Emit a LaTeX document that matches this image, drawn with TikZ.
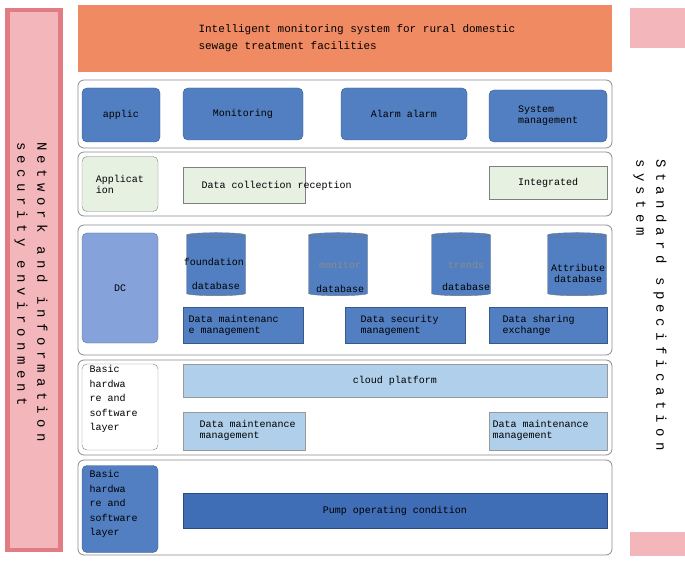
\documentclass[tikz,border=0pt]{standalone}
\usepackage{fontspec}
\setmainfont{Liberation Mono}
\newfontfamily\spacedmono{Liberation Mono}[LetterSpace=38]
\usetikzlibrary{shapes.geometric}
\definecolor{bandred}{HTML}{E27B82}
\definecolor{bandpink}{HTML}{F3B6BA}
\definecolor{titleorange}{HTML}{F08A62}
\definecolor{btnblue}{HTML}{527FC2}
\definecolor{dcblue}{HTML}{86A2DA}
\definecolor{cloudblue}{HTML}{AFCFEA}
\definecolor{palegreen}{HTML}{E6F1E2}
\definecolor{pumpblue}{HTML}{3F6DB6}
\tikzset{
  layer/.style={draw=black!45, rounded corners=6pt, line width=0.8pt},
  btn/.style={fill=btnblue, draw=btnblue!70!black, rounded corners=5pt, font=\fontsize{10}{11}\selectfont},
  pale/.style={fill=palegreen, draw=black!50, font=\fontsize{10}{11}\selectfont},
  store/.style={cylinder, shape border rotate=90, aspect=0.7, fill=btnblue, draw=black!55,
    minimum width=59pt, minimum height=63pt},
  flat/.style={fill=btnblue, draw=btnblue!70!black},
  txt/.style={font=\fontsize{10}{11}\selectfont, align=left}
}
\begin{document}
\begin{tikzpicture}[x=1pt,y=-1pt]
\useasboundingbox (0,0) rectangle (685,561);
\fill[white] (0,0) rectangle (685,561);
% side bands
\fill[bandred] (5,8) rectangle (63,552);
\fill[bandpink] (10,12) rectangle (58,548);
\node[rotate=-90, font=\spacedmono\fontsize{14}{20}\selectfont, align=left] (net) at (31,292)
  {Network and information\\security environment};
\node[rotate=-90, font=\spacedmono\fontsize{14}{20}\selectfont, align=left] (std) at (650,305)
  {Standard specification\\system};
\fill[bandpink] (630,8) rectangle (685,48);
\fill[bandpink] (630,532) rectangle (685,556);
% title
\fill[titleorange] (78,5) rectangle (612,72);
\node[txt, font=\fontsize{11}{17}\selectfont, anchor=west] (title) at (195,38)
  {Intelligent monitoring system for rural domestic\\sewage treatment facilities};
% layers
\draw[layer] (78,80) rectangle (612,148);
\draw[layer] (78,152) rectangle (612,216);
\draw[layer] (78,225) rectangle (612,355);
\draw[layer] (78,360) rectangle (612,455);
\draw[layer] (78,460) rectangle (612,555);
% row 1
\node[btn, minimum width=78pt, minimum height=54pt] (applic) at (121,115) {applic};
\node[btn, minimum width=120pt, minimum height=52pt] (monitor) at (243,114) {Monitoring};
\node[btn, minimum width=126pt, minimum height=52pt] (alarm) at (404,114) {Alarm alarm};
\node[btn, minimum width=118pt, minimum height=52pt, align=left] (sysman) at (548,116) {System\\management};
% row 2
\node[pale, rounded corners=5pt, minimum width=76pt, minimum height=55pt, align=left] (app) at (120,184) {Applicat\\ion};
\node[pale, minimum width=122pt, minimum height=36pt] (collect) at (244,185) {};
\node[txt, anchor=west] (collecttxt) at (198,186) {Data collection reception};
\node[pale, minimum width=118pt, minimum height=33pt] (integ) at (548,183) {Integrated};
% row 3
\node[fill=dcblue, draw=dcblue!70!black, rounded corners=5pt, minimum width=76pt, minimum height=110pt, font=\fontsize{10}{11}\selectfont] (dc) at (120,288) {DC};
\node[store] (found) at (216,266) {};
\node[txt] at (214,262) {foundation};
\node[txt] at (216,286) {database};
\node[store] (mon) at (338,266) {};
\node[txt, text=black!45] at (340,265) {monitor};
\node[txt] at (340,289) {database};
\node[store] (trend) at (461,266) {};
\node[txt, text=black!45] at (466,265) {trends};
\node[txt] at (466,287) {database};
\node[store] (attr) at (577,266) {};
\node[txt, align=center] at (578,273) {Attribute\\database};
\node[flat, minimum width=120pt, minimum height=36pt] (maint1) at (243,325) {};
\node[txt, anchor=west] at (185,325) {Data maintenanc\\e management};
\node[flat, minimum width=120pt, minimum height=36pt] (secur) at (405,325) {};
\node[txt, anchor=west] at (357,325) {Data security\\management};
\node[flat, minimum width=118pt, minimum height=36pt] (share) at (548,325) {};
\node[txt, anchor=west] at (499,325) {Data sharing\\exchange};
% row 4
\node[pale, fill=white, rounded corners=5pt, minimum width=76pt, minimum height=86pt] (hw1) at (120,407) {};
\node[txt, anchor=north west, font=\fontsize{10}{14.5}\selectfont] at (86,362) {Basic\\hardwa\\re and\\software\\layer};
\node[fill=cloudblue, draw=black!40, minimum width=424pt, minimum height=33pt, font=\fontsize{10}{11}\selectfont] (cloud) at (395,381) {cloud platform};
\node[fill=cloudblue, draw=black!40, minimum width=122pt, minimum height=38pt] (maint2) at (244,431) {};
\node[txt, anchor=west] at (196,430) {Data maintenance\\management};
\node[fill=cloudblue, draw=black!40, minimum width=118pt, minimum height=38pt] (maint3) at (548,431) {};
\node[txt, anchor=west] at (489,430) {Data maintenance\\management};
% row 5
\node[fill=btnblue, draw=btnblue!70!black, rounded corners=5pt, minimum width=76pt, minimum height=87pt] (hw2) at (120,509) {};
\node[txt, anchor=north west, font=\fontsize{10}{14.5}\selectfont] at (86,467) {Basic\\hardwa\\re and\\software\\layer};
\node[fill=pumpblue, draw=pumpblue!70!black, minimum width=424pt, minimum height=35pt, font=\fontsize{10}{11}\selectfont] (pump) at (395,511) {Pump operating condition};
\end{tikzpicture}
\end{document}
